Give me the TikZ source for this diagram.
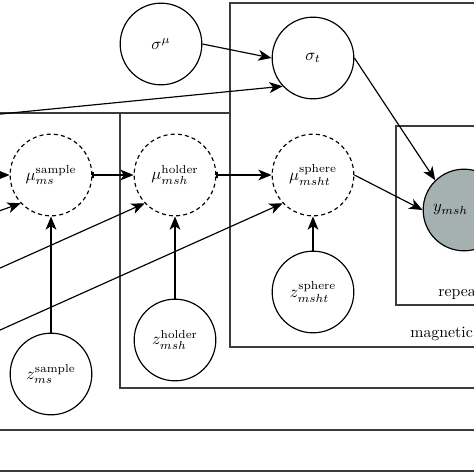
\documentclass[tikz,border=0pt]{standalone}
\usepackage{amsmath}
\usepackage{tikz}
\usetikzlibrary{arrows.meta}
\definecolor{obsGray}{RGB}{165,177,177}
\definecolor{plateGray}{RGB}{60,60,60}

\begin{document}
\begin{tikzpicture}
[x=0.6pt,y=-0.6pt,
  latentDecorate/.style={shape=circle,minimum size=49pt,inner sep=0pt,draw,fill=white,line width=0.7pt},%
  detDecorate/.style={latentDecorate,dash pattern=on 2.4pt off 1.9pt},%
  obsDecorate/.style={latentDecorate,fill=obsGray,text width=37pt,align=left},%
  lineDecorate/.style={line width=0.7pt,-{Stealth[length=8pt,width=6.5pt,inset=2.2pt]}},%
  passDecorate/.style={line width=0.7pt,{Bar[width=4pt]}-{Stealth[length=8pt,width=6.5pt,inset=2.2pt]}},%
  plateDecorate/.style={line width=0.9pt,draw=plateGray},%
  plateLabel/.style={anchor=base west,inner sep=0pt,font=\fontsize{9.5}{11}\selectfont}]
\useasboundingbox (0,0) rectangle (474,474);
\clip (0,0) rectangle (474,474);
%% plates
\draw[plateDecorate] (230,3) rectangle (520,347);
\draw[plateDecorate] (396,126) rectangle (520,305);
\draw[plateDecorate] (-20,113) -- (230,113);
\draw[plateDecorate] (120,113) -- (120,388) -- (520,388);
\draw[plateDecorate] (-20,430) -- (520,430);
\draw[plateDecorate] (-20,471) -- (520,471);
\node (magLabel) at (410,337) [plateLabel] {magnetic};
\node (repLabel) at (438,296) [plateLabel] {repeat};
%% nodes or vertices
\foreach \nodename/\x/\y/\txt in {sigmamu/161/44/{$\sigma^{\mu}$}, sigmat/313/58/{$\sigma_t$},
  zsample/51/374/{$z^{\mathrm{sample}}_{ms}$}, zholder/175/340/{$z^{\mathrm{holder}}_{msh}$},
  zsphere/313/292/{$z^{\mathrm{sphere}}_{msht}$}} {
  \node (\nodename) at (\x,\y) [latentDecorate] {\txt};
}
\foreach \nodename/\x/\y/\txt in {musample/51/175/{$\mu^{\mathrm{sample}}_{ms}$},
  muholder/175/175/{$\mu^{\mathrm{holder}}_{msh}$}, musphere/313/175/{$\mu^{\mathrm{sphere}}_{msht}$}} {
  \node (\nodename) at (\x,\y) [detDecorate] {\txt};
}
\node (ymsh) at (464,210) [obsDecorate] {$y_{msh}$};
%% free ends off the left border
\coordinate (srcSigma) at (-40,118);
\coordinate (srcMs) at (-40,175);
\coordinate (srcMsLow) at (-40,225);
\coordinate (srcMsh) at (-40,286);
\coordinate (srcMsht) at (-40,348);
%% edges or lines
\path
\foreach \startnode/\endnode in {zsample/musample, zholder/muholder, zsphere/musphere} {
  (\startnode) edge[lineDecorate] (\endnode)
}
(srcMs) edge[passDecorate] (musample.west)
(musample.east) edge[passDecorate] (muholder.west)
(muholder.east) edge[passDecorate] (musphere.west)
(srcMsLow) edge[lineDecorate] (musample.223)
(srcMsh) edge[lineDecorate] (muholder.223)
(srcMsht) edge[lineDecorate] (musphere.223)
(srcSigma) edge[lineDecorate] (sigmat.223)
(sigmamu.east) edge[lineDecorate] (sigmat.west)
(sigmat.east) edge[lineDecorate] (ymsh.134)
(musphere.east) edge[lineDecorate] (ymsh.west);
\end{tikzpicture}
\end{document}
